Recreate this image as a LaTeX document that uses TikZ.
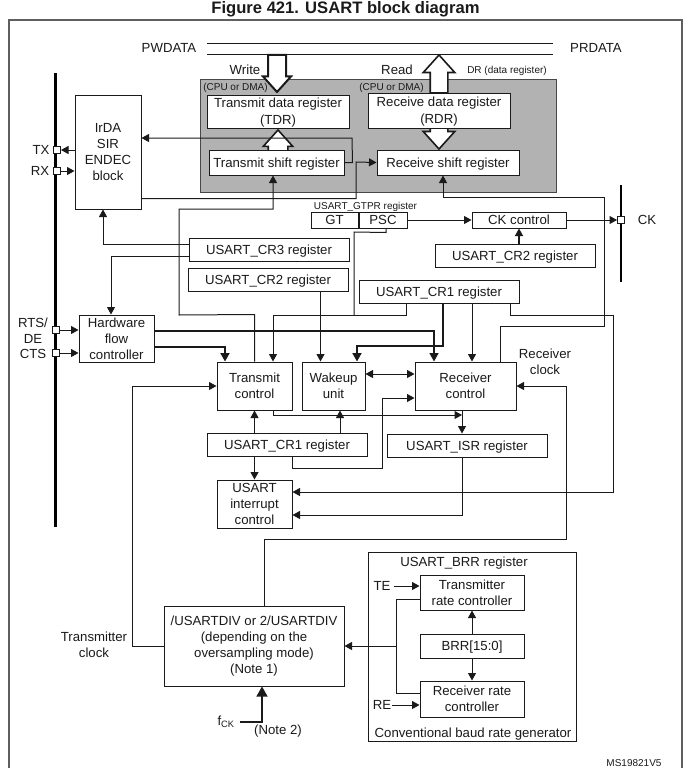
\documentclass[tikz,border=0pt]{standalone}
\usepackage{fontspec}
\setmainfont{Liberation Sans}
\usetikzlibrary{arrows.meta,positioning,shapes.arrows}
\definecolor{regfill}{HTML}{B2B2B2}
\definecolor{ink}{HTML}{1A1A1A}
\tikzset{
    %Define standard arrow tip
    >={Triangle[length=7.5pt,width=8pt]},
    %Define style for boxes
    block/.style={
           rectangle,
           draw=ink, line width=1pt,
           fill=white,
           inner sep=0pt,
           font=\fontsize{13.2}{16}\selectfont,
           text=ink,
           align=center
           },
    solo/.style={
           text height=9.5pt,
           text depth=0pt},
    txt/.style={
           inner sep=0pt,
           font=\fontsize{13.2}{16}\selectfont,
           text=ink,
           align=center
           },
    smalltxt/.style={
           inner sep=0pt,
           font=\fontsize{10}{12}\selectfont,
           text=ink
           },
    port/.style={
           rectangle,
           draw=ink, line width=1pt,
           fill=white,
           inner sep=0pt,
           minimum size=7pt
           },
    fatarrow/.style={
           single arrow,
           draw=ink, line width=1.6pt,
           fill=white,
           inner sep=8pt,
           outer sep=0pt,
           single arrow tip angle=84
           },
    % Define arrow style
    sig/.style={
           ->,
           draw=ink,
           line width=1pt},
    plain/.style={
           draw=ink,
           line width=1pt},
    bus/.style={
           ->,
           >={Triangle[length=8.5pt,width=9pt]},
           draw=ink,
           line width=1.8pt},
    bar/.style={
           draw=black,
           line width=2.6pt}
}
\begin{document}
\begin{tikzpicture}[x=1pt,y=-1pt]
\useasboundingbox (0,0) rectangle (688,768);
\clip (0,0) rectangle (688,768);
\node[inner sep=0pt,font=\fontsize{16.6}{18}\selectfont\bfseries,text=ink](title) at (345.5,9){Figure 421. USART block diagram};
\draw[draw=ink!70,line width=1.2pt] (9,20) rectangle (682,790);
% data bus
\coordinate(pwtop) at (207,43.5);
\coordinate(prtop) at (553,43.5);
\coordinate(pwbot) at (207,55);
\coordinate(prbot) at (553,55);
\draw[plain] (pwtop) -- (prtop);
\draw[plain] (pwbot) -- (prbot);
\node[txt](pwdata) at (169,48){PWDATA};
\node[txt](prdata) at (596,48){PRDATA};
\node[txt](write) at (245,70){Write};
\node[txt](read) at (397,70){Read};
\node[smalltxt](drlabel) at (507,71){DR (data register)};
% data register
\node[rectangle,draw=ink!80,line width=1pt,fill=regfill,minimum width=356pt,minimum height=113pt,inner sep=0pt](dr) at (378,135.5){};
\node[smalltxt](cpuw) at (235.5,88){(CPU or DMA)};
\node[smalltxt](cpur) at (391.5,88){(CPU or DMA)};
\node[fatarrow,line width=2pt,shape border rotate=270,anchor=tip,minimum height=37pt,single arrow head extend=5pt](writearrow) at (277,92){};
\node[fatarrow,shape border rotate=90,anchor=tip,minimum height=38pt,single arrow head extend=7pt](readarrow) at (439,55){};
\node[fatarrow,shape border rotate=90,anchor=tip,minimum height=20pt,inner sep=9pt,single arrow head extend=5pt](txarrow) at (278,130){};
\node[fatarrow,shape border rotate=270,anchor=tip,minimum height=21pt,single arrow head extend=7pt](rxarrow) at (439,149){};
\node[block,text depth=0pt,minimum width=142pt,minimum height=33pt](tdr) at (278,111.5){Transmit data register\\[1pt](TDR)};
\node[block,text depth=0pt,minimum width=142pt,minimum height=35pt](rdr) at (439,110.5){Receive data register\\[1pt](RDR)};
\node[block,solo,minimum width=135pt,minimum height=25pt](tsr) at (276.5,162.5){Transmit shift register};
\node[block,solo,minimum width=142pt,minimum height=25pt](rsr) at (448,162.5){Receive shift register};
% pins
\draw[bar] (55.5,73) -- (55.5,527);
\draw[bar] (621,185) -- (621,282);
\node[block,minimum width=66pt,minimum height=114pt](irda) at (108,152){IrDA\\SIR\\ENDEC\\block};
\node[port](tx) at (57,150){};
\node[port](rx) at (57,171){};
\node[port](rts) at (56,330){};
\node[port](cts) at (56,353){};
\node[txt](txlabel) at (41,150){TX};
\node[txt](rxlabel) at (40,171){RX};
\node[txt](rtslabel) at (33,331){RTS/\\DE};
\node[txt](ctslabel) at (33,354){CTS};
% registers
\node[smalltxt](gtprlabel) at (365.5,206.5){USART\_GTPR register};
\node[block,solo,minimum width=47pt,minimum height=16pt](gt) at (334.5,220){GT};
\node[block,solo,minimum width=48pt,minimum height=16pt,right=0pt of gt](psc){PSC};
\node[block,solo,minimum width=94pt,minimum height=16pt](ckctl) at (519,220){CK control};
\node[port](ck) at (621,220){};
\node[txt](cklabel) at (647,220){CK};
\node[block,solo,minimum width=160pt,minimum height=23pt](crthree) at (269,249.5){USART\_CR3 register};
\node[block,solo,minimum width=160pt,minimum height=23pt](crtwo) at (268,279.5){USART\_CR2 register};
\node[block,solo,minimum width=160pt,minimum height=23pt](crtwob) at (515,255.5){USART\_CR2 register};
\node[block,solo,minimum width=160pt,minimum height=23pt](crone) at (439,291.5){USART\_CR1 register};
\node[block,minimum width=75pt,minimum height=47pt](hw) at (116.5,338.5){Hardware\\flow\\controller};
\node[block,minimum width=75pt,minimum height=48pt](txctl) at (254.5,386){Transmit\\control};
\node[block,minimum width=63pt,minimum height=48pt](wake) at (333.5,386){Wakeup\\unit};
\node[block,minimum width=101pt,minimum height=48pt](rxctl) at (465.5,386){Receiver\\control};
\node[txt](rxclk) at (545,362){Receiver\\clock};
\node[block,solo,minimum width=160pt,minimum height=23pt](croneb) at (287,444.5){USART\_CR1 register};
\node[block,solo,minimum width=160pt,minimum height=23pt](isr) at (467,445.5){USART\_ISR register};
\node[block,minimum width=75pt,minimum height=48pt](irq) at (254.5,504){USART\\interrupt\\control};
\node[block,minimum width=180pt,minimum height=80pt](div) at (254,646){/USARTDIV or 2/USARTDIV\\(depending on the\\oversampling mode)\\(Note 1)};
\node[txt](txclk) at (94,645){Transmitter\\clock};
\node[txt](fck) at (226,722){f\textsubscript{CK}};
\coordinate(fckend) at (240,722);
\node[txt](note) at (278,731){(Note 2)};
% baud rate generator
\node[block,minimum width=208pt,minimum height=189pt](brrbox) at (472,646.5){};
\node[txt](brrlabel) at (464,563){USART\_BRR register};
\node[txt](genlabel) at (473,734){Conventional baud rate generator};
\node[block,minimum width=104pt,minimum height=35pt](txrate) at (472,592.5){Transmitter\\rate controller};
\node[block,solo,minimum width=104pt,minimum height=24pt](brr) at (472,646){BRR[15:0]};
\node[block,minimum width=104pt,minimum height=36pt](rxrate) at (472,699){Receiver rate\\controller};
\node[txt](te) at (382,586){TE};
\node[txt](re) at (382,705){RE};
\coordinate(teend) at (394,586);
\coordinate(reend) at (392,705);
% connectors
\draw[sig] (irda.west |- tx) -- (tx);
\draw[sig] (rx) -- (irda.west |- rx);
\draw[sig] (rts) -- (hw.west |- rts);
\draw[sig] (cts) -- (hw.west |- cts);
\draw[sig] (tsr.east) -- ++(8,0) -- (352,138) -- (irda.east |- 0,138);
\draw[sig] (irda.east |- 0,198.5) -- (356,198.5) -- (356,162) -- (rsr.west);
\draw[sig] (txctl.north) -- ++(0,-47) -- (179,315) -- (179,209) -- (273,209) -- (tsr.south -| 273,0);
\draw[sig] ([yshift=5.5pt]crthree.west) -- (103,244) -- (irda.south -| 103,0);
\draw[sig] ([yshift=-6.5pt]crthree.west) -- (111,256) -- (hw.north -| 111,0);
\draw[sig] (crtwo.south -| 320.5,0) -- (wake.north -| 320.5,0);
\draw[plain] ([xshift=3pt]psc.south) -- ++(0,4) -- (354,232) -- (354,315);
\draw[sig] (crone.south -| 406,0) -- (406,315) -- (273,315) -- (txctl.north -| 273,0);
\draw[sig] (psc.east) -- (ckctl.west);
\draw[sig] (ckctl.east) -- (ck.west);
\draw[sig,line width=1.4pt] (crtwob.north -| ckctl.south) -- (ckctl.south);
\draw[sig] (rxctl.north -| 500,0) -- (500,326) -- (604,326) -- (604,197) -- (443,197) -- (rsr.south -| 443,0);
\draw[bus] (crone.south -| 443,0) -- (443,346) -- (357,346) -- (wake.north -| 357,0);
\draw[sig] (crone.south -| 472,0) -- (rxctl.north -| 472,0);
\draw[sig] (crone.south -| 510,0) -- (510,315) -- (613,315) -- (613,492) -- (irq.east |- 0,492);
\draw[bus,line width=1.6pt] (hw.east |- 0,331) -- (434,331) -- (rxctl.north -| 434,0);
\draw[bus] (hw.east |- 0,347) -- (225,347) -- (txctl.north -| 225,0);
\draw[sig,<->] (wake.east |- 0,374) -- (rxctl.west |- 0,374);
\draw[sig] (txctl.south -| 273,0) -- (273,415) -- (462,415);
\draw[sig] (rxctl.south -| 462,0) -- (isr.north -| 462,0);
\draw[sig] (croneb.north -| txctl.south) -- (txctl.south);
\draw[sig] (croneb.north -| 340,0) -- (wake.south -| 340,0);
\draw[sig] (croneb.south -| irq.north) -- (irq.north);
\draw[sig] (croneb.south -| 292,0) -- (292,468) -- (382,468) -- (382,398) -- (rxctl.west |- 0,398);
\draw[sig] (isr.south -| 462,0) -- (462,515) -- (irq.east |- 0,515);
\draw[sig] (div.north -| 264,0) -- (264,539) -- (566,539) -- (566,386) -- (rxctl.east |- 0,386);
\draw[sig] (div.west |- 0,646) -- (132,646) -- (132,386) -- (txctl.west |- 0,386);
\draw[bus,line width=1.2pt,>={Triangle[length=10pt,width=11pt]}] (fckend) -- (262,722) -- (div.south -| 262,0);
\draw[sig] (teend) -- (txrate.west |- teend);
\draw[sig] (reend) -- (rxrate.west |- reend);
\draw[sig] (brr.north) -- (txrate.south);
\draw[sig] (brr.south) -- (rxrate.north);
\draw[plain] (txrate.west |- 0,599) -- (396,599) -- (396,693) -- (rxrate.west |- 0,693);
\draw[sig] (396,646) -- (div.east |- 0,646);
\node[smalltxt](partno) at (634,763){MS19821V5};
\end{tikzpicture}
\end{document}
